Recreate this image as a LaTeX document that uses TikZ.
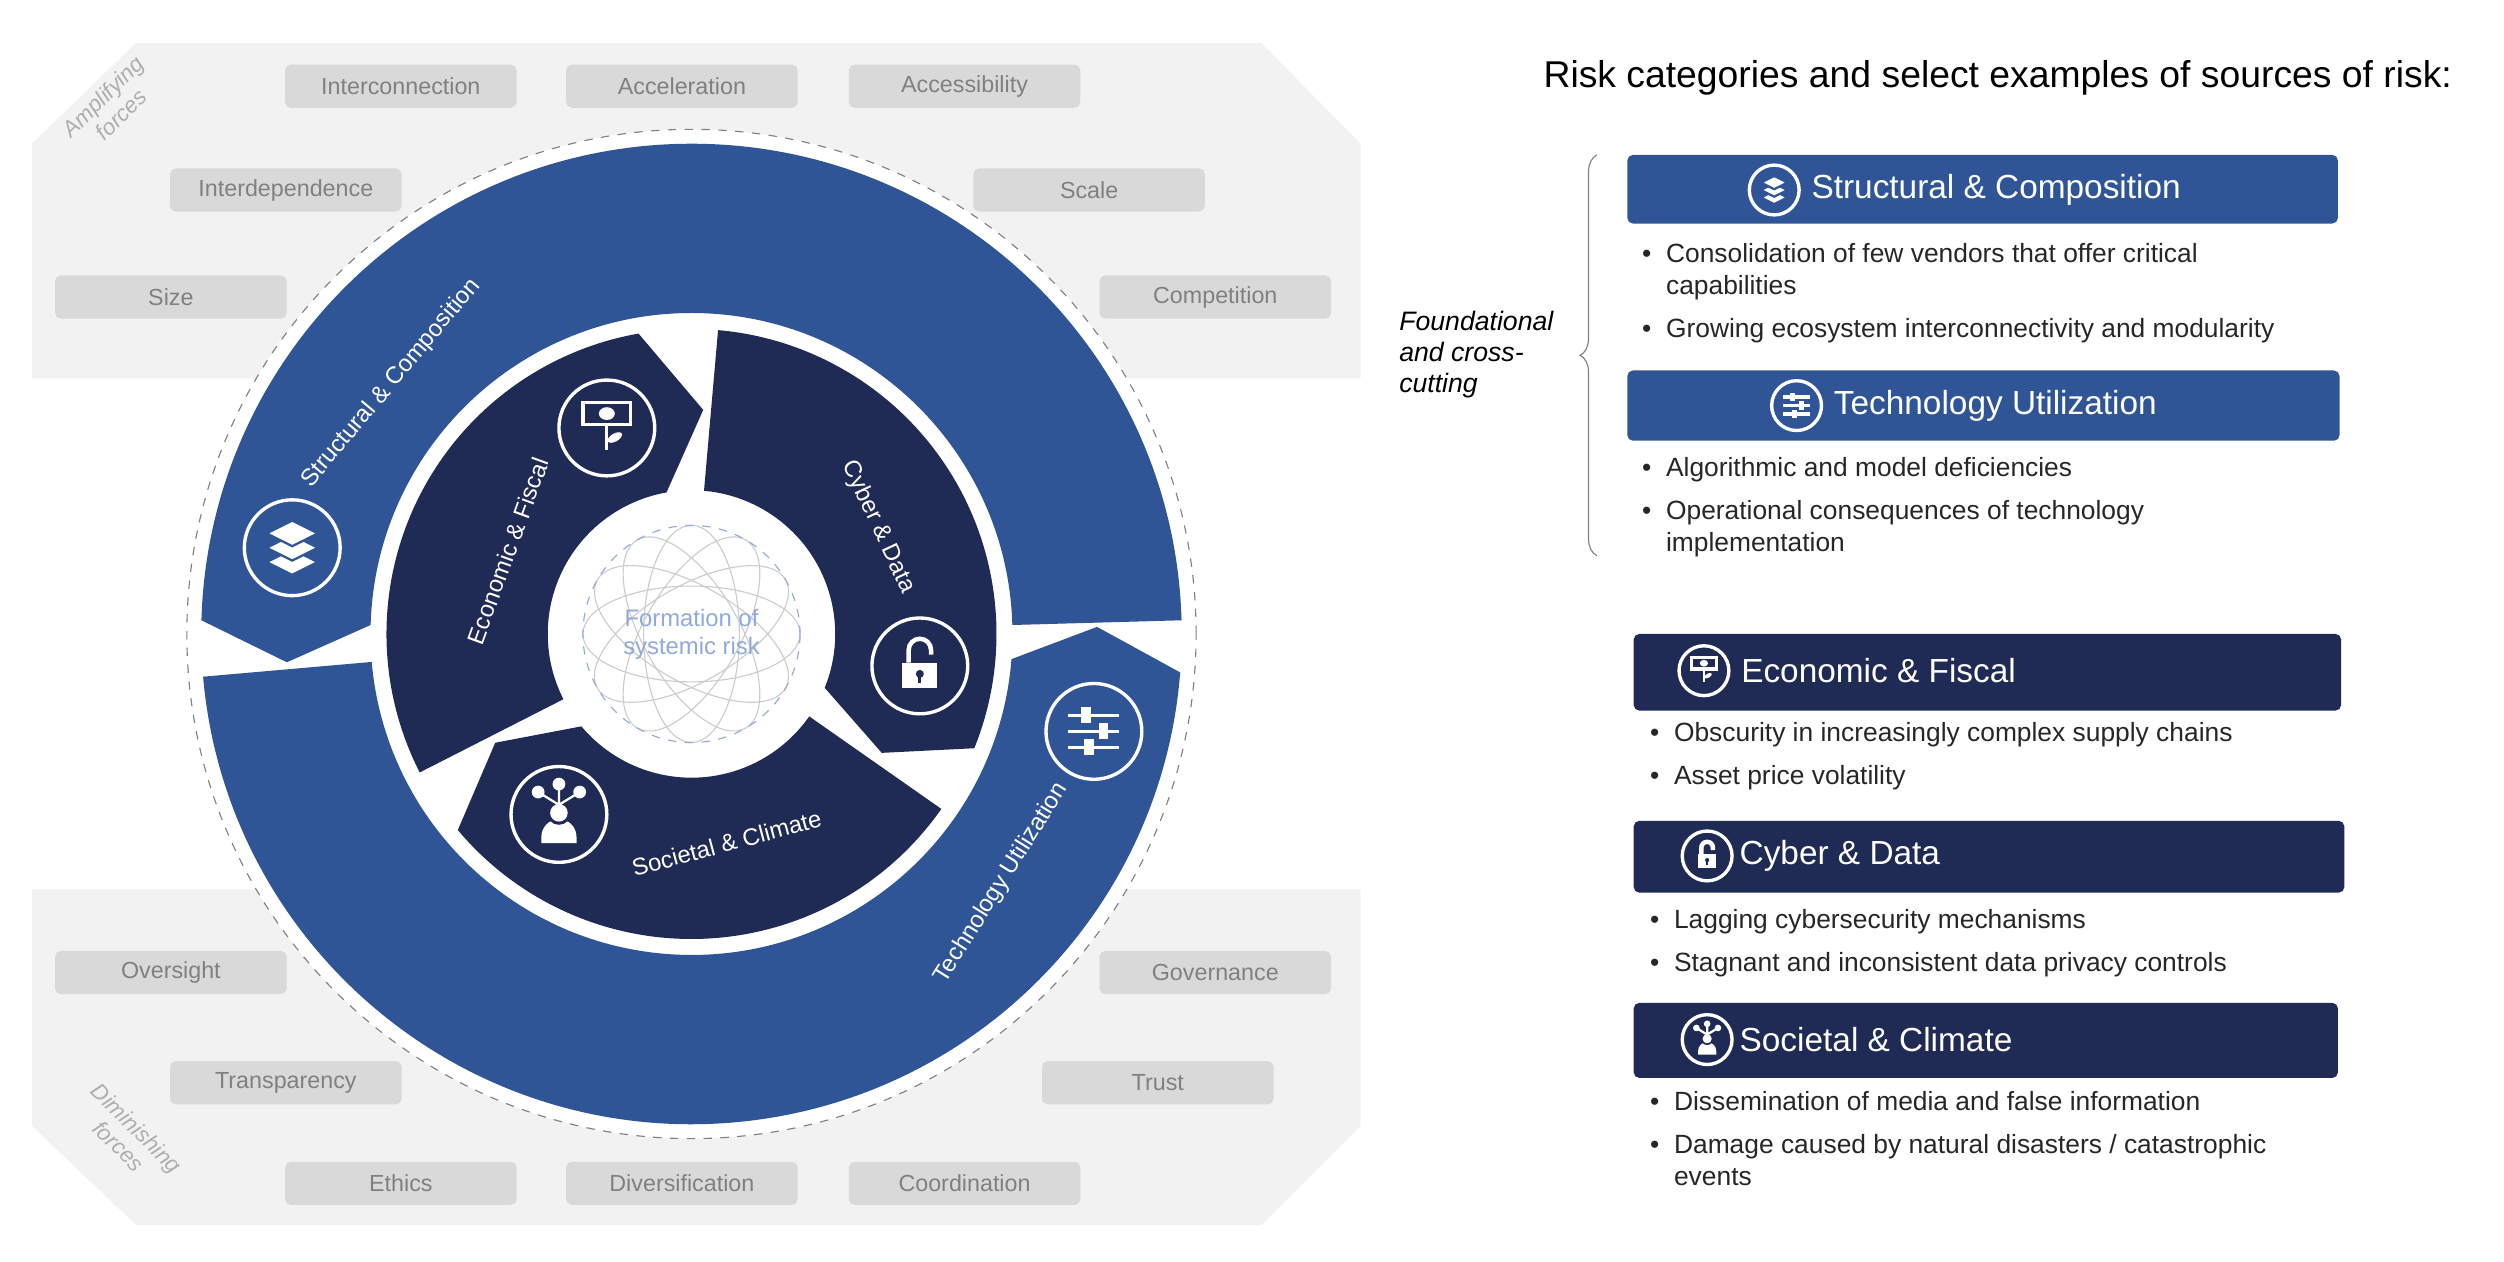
\documentclass[tikz,border=0pt]{standalone}
\usepackage{fontspec}
\setmainfont{Liberation Sans}
\usetikzlibrary{decorations.pathreplacing}
\definecolor{ringblue}{HTML}{2F5597}
\definecolor{navy}{HTML}{1F2A55}
\definecolor{bggray}{HTML}{F2F2F2}
\definecolor{chipgray}{HTML}{D9D9D9}
\definecolor{chiptext}{HTML}{808080}
\definecolor{formblue}{HTML}{8FAADC}

% ring segment: rin, rout, start, end, tip angle
\newcommand{\segpath}[5]{(#3:#2) arc[start angle=#3, end angle=#4, radius=#2]
  -- (#5:{(#1+#2)/2}) -- (#4:#1) arc[start angle=#4, end angle=#3, radius=#1] -- cycle}
\newcommand{\bl}{\makebox[8.5pt][l]{•}}
\newcommand{\nb}{\hspace*{8.5pt}}

% icons, drawn for a circle of radius 33
\newcommand{\icnLayers}[1]{\draw[white,line width=1.2pt] (0,0) circle (30);
  \foreach \dy in {-9,0,9} \filldraw[fill=white,draw=#1,line width=0.8pt] (-16,\dy)--(0,\dy+8)--(16,\dy)--(0,\dy-8)--cycle;}
\newcommand{\icnSliders}[1]{\draw[white,line width=1.2pt] (0,0) circle (30);
  \foreach \yy/\xx in {10/-5,0/6,-10/-3} {\draw[white,line width=1.3pt] (-16,\yy)--(16,\yy);
    \fill[white] (\xx-3,\yy-5) rectangle (\xx+3,\yy+5);}}
\newcommand{\icnMoney}[1]{\draw[white,line width=1.2pt] (0,0) circle (30);
  \draw[white,line width=1.2pt] (-15,2) rectangle (15,16); \fill[white] (0,9) ellipse (5 and 4);
  \draw[white,line width=1pt] (0,2)--(0,-14);
  \fill[white,rotate around={30:(5,-6)}] (5,-6) ellipse (5 and 2.5);}
\newcommand{\icnLock}[1]{\draw[white,line width=1.2pt] (0,0) circle (30);
  \draw[white,line width=1.6pt] (-7,2) -- (-7,10) arc[start angle=180,end angle=0,radius=7] -- (7,7);
  \fill[white] (-11,-14) rectangle (11,2); \fill[#1] (0,-5) circle (2.5); \fill[#1] (-1,-11) rectangle (1,-5);}
\newcommand{\icnPeople}[1]{\draw[white,line width=1.2pt] (0,0) circle (30);
  \fill[white] (-11,-18) -- (-11,-14) arc[start angle=180,end angle=0,radius=11] -- (11,-18) -- cycle;
  \fill[#1] (0,1) circle (7.5); \fill[white] (0,1) circle (5.5);
  \draw[white,line width=0.8pt] (0,6)--(-13,14) (0,6)--(0,19) (0,6)--(13,14);
  \foreach \p in {(-13,14),(0,19),(13,14)} \fill[white] \p circle (4);}

\tikzset{
  chip/.style={rounded corners=2pt, fill=chipgray, text=chiptext, minimum width=2.9cm,
    minimum height=0.54cm, font=\fontsize{8.3}{10}\selectfont},
  forces/.style={text=chipgray!80!black, font=\itshape\fontsize{8}{9}\selectfont, align=center},
  wlabel/.style={text=white, font=\fontsize{8.5}{10}\selectfont},
  hdr/.style={text=white, font=\fontsize{11.9}{14}\selectfont},
  bul/.style={anchor=north west, align=left, text=black!85, font=\fontsize{9.4}{11.3}\selectfont, inner sep=0pt},
}

\begin{document}
\begin{tikzpicture}[x=0.02cm, y=0.02cm]
  \useasboundingbox (0,0) rectangle (1568,790);

  % background bands
  \fill[bggray] (85,763) -- (790,763) -- (852,700) -- (852,553) -- (20,553) -- (20,700) -- cycle;
  \fill[bggray] (20,233) -- (852,233) -- (852,85) -- (790,23) -- (85,23) -- (20,85) -- cycle;

  \node[chip] (interconnection) at (251,736) {Interconnection};
  \node[chip] (acceleration) at (427,736) {Acceleration};
  \node[chip] (accessibility) at (604,736) {Accessibility};
  \node[chip] (interdependence) at (179,671) {Interdependence};
  \node[chip] (scale) at (682,671) {Scale};
  \node[chip] (size) at (107,604) {Size};
  \node[chip] (competition) at (761,604) {Competition};
  \node[chip] (oversight) at (107,181) {Oversight};
  \node[chip] (governance) at (761,181) {Governance};
  \node[chip] (transparency) at (179,112) {Transparency};
  \node[chip] (trust) at (725,112) {Trust};
  \node[chip] (ethics) at (251,49) {Ethics};
  \node[chip] (diversification) at (427,49) {Diversification};
  \node[chip] (coordination) at (604,49) {Coordination};
  \node[forces, rotate=45] (amplifying) at (70,724) {Amplifying\\forces};
  \node[forces, rotate=-45] (diminishing) at (80,78) {Diminishing\\forces};

  % wheel
  \begin{scope}[shift={(433,393)}]
    \filldraw[fill=white, draw=gray, dashed, thin] (0,0) circle (316);
    \fill[ringblue] \segpath{201}{307}{1.6}{178.4}{184};
    \fill[ringblue] \segpath{201}{307}{185}{355.5}{361};
    \fill[navy] \segpath{90}{191}{207}{100}{87};
    \fill[navy] \segpath{90}{191}{85}{-22}{-32};
    \fill[navy] \segpath{90}{191}{-35}{-140}{-151};
    \foreach \a in {0,30,...,150}
      \draw[gray!40, rotate=\a] (0,0) ellipse (68 and 30);
    \draw[formblue, dashed] (0,0) circle (68);
    \node[text=formblue, align=center, font=\fontsize{8.5}{10}\selectfont] (formation) at (0,0) {Formation of\\systemic risk};
  \end{scope}

  \node[wlabel, rotate=50] (lstructural) at (245,550) {Structural \& Composition};
  \node[wlabel, rotate=58] (ltechnology) at (627,237) {Technology Utilization};
  \node[wlabel, rotate=70] (leconomic) at (318,445) {Economic \& Fiscal};
  \node[wlabel, rotate=-65] (lcyber) at (550,460) {Cyber \& Data};
  \node[wlabel, rotate=15] (lsocietal) at (455,262) {Societal \& Climate};

  \begin{scope}[shift={(183,447)}] \icnLayers{ringblue} \end{scope}
  \begin{scope}[shift={(685,332)}] \icnSliders{ringblue} \end{scope}
  \begin{scope}[shift={(380,522)}] \icnMoney{navy} \end{scope}
  \begin{scope}[shift={(576,373)}] \icnLock{navy} \end{scope}
  \begin{scope}[shift={(350,280)}] \icnPeople{navy} \end{scope}

  % right-hand legend
  \node[font=\fontsize{13.3}{15}\selectfont] (title) at (1251,741) {Risk categories and select examples of sources of risk:};
  \draw[gray, decorate, decoration={brace, amplitude=6pt}] (1000,442) -- (1000,693);
  \node[anchor=west, align=left, font=\itshape\fontsize{9.5}{11}\selectfont] (foundational) at (870,568) {Foundational\\and cross-\\cutting};

  \fill[ringblue, rounded corners=2pt] (1019,650) rectangle (1464,693);
  \begin{scope}[shift={(1111,671)}, scale=0.52] \icnLayers{ringblue} \end{scope}
  \node[hdr, anchor=west, inner sep=0pt] (hstructural) at (1134,671) {Structural \& Composition};
  \node[bul] (t1) at (1028,638) {\bl Consolidation of few vendors that offer critical\\\nb capabilities\\[4pt]\bl Growing ecosystem interconnectivity and modularity};

  \fill[ringblue, rounded corners=2pt] (1019,514) rectangle (1465,558);
  \begin{scope}[shift={(1125,536)}, scale=0.52] \icnSliders{ringblue} \end{scope}
  \node[hdr, anchor=west, inner sep=0pt] (htechnology) at (1148,536) {Technology Utilization};
  \node[bul] (t2) at (1028,504) {\bl Algorithmic and model deficiencies\\[4pt]\bl Operational consequences of technology\\\nb implementation};

  \fill[navy, rounded corners=2pt] (1023,345) rectangle (1466,393);
  \begin{scope}[shift={(1067,370)}, scale=0.52] \icnMoney{navy} \end{scope}
  \node[hdr, anchor=west, inner sep=0pt] (heconomic) at (1090,370) {Economic \& Fiscal};
  \node[bul] (t3) at (1033,338) {\bl Obscurity in increasingly complex supply chains\\[4pt]\bl Asset price volatility};

  \fill[navy, rounded corners=2pt] (1023,231) rectangle (1468,276);
  \begin{scope}[shift={(1069,254)}, scale=0.52] \icnLock{navy} \end{scope}
  \node[hdr, anchor=west, inner sep=0pt] (hcyber) at (1089,254) {Cyber \& Data};
  \node[bul] (t4) at (1033,221) {\bl Lagging cybersecurity mechanisms\\[4pt]\bl Stagnant and inconsistent data privacy controls};

  \fill[navy, rounded corners=2pt] (1023,115) rectangle (1464,162);
  \begin{scope}[shift={(1069,139)}, scale=0.52] \icnPeople{navy} \end{scope}
  \node[hdr, anchor=west, inner sep=0pt] (hsocietal) at (1089,139) {Societal \& Climate};
  \node[bul] (t5) at (1033,107) {\bl Dissemination of media and false information\\[4pt]\bl Damage caused by natural disasters / catastrophic\\\nb events};
\end{tikzpicture}
\end{document}
